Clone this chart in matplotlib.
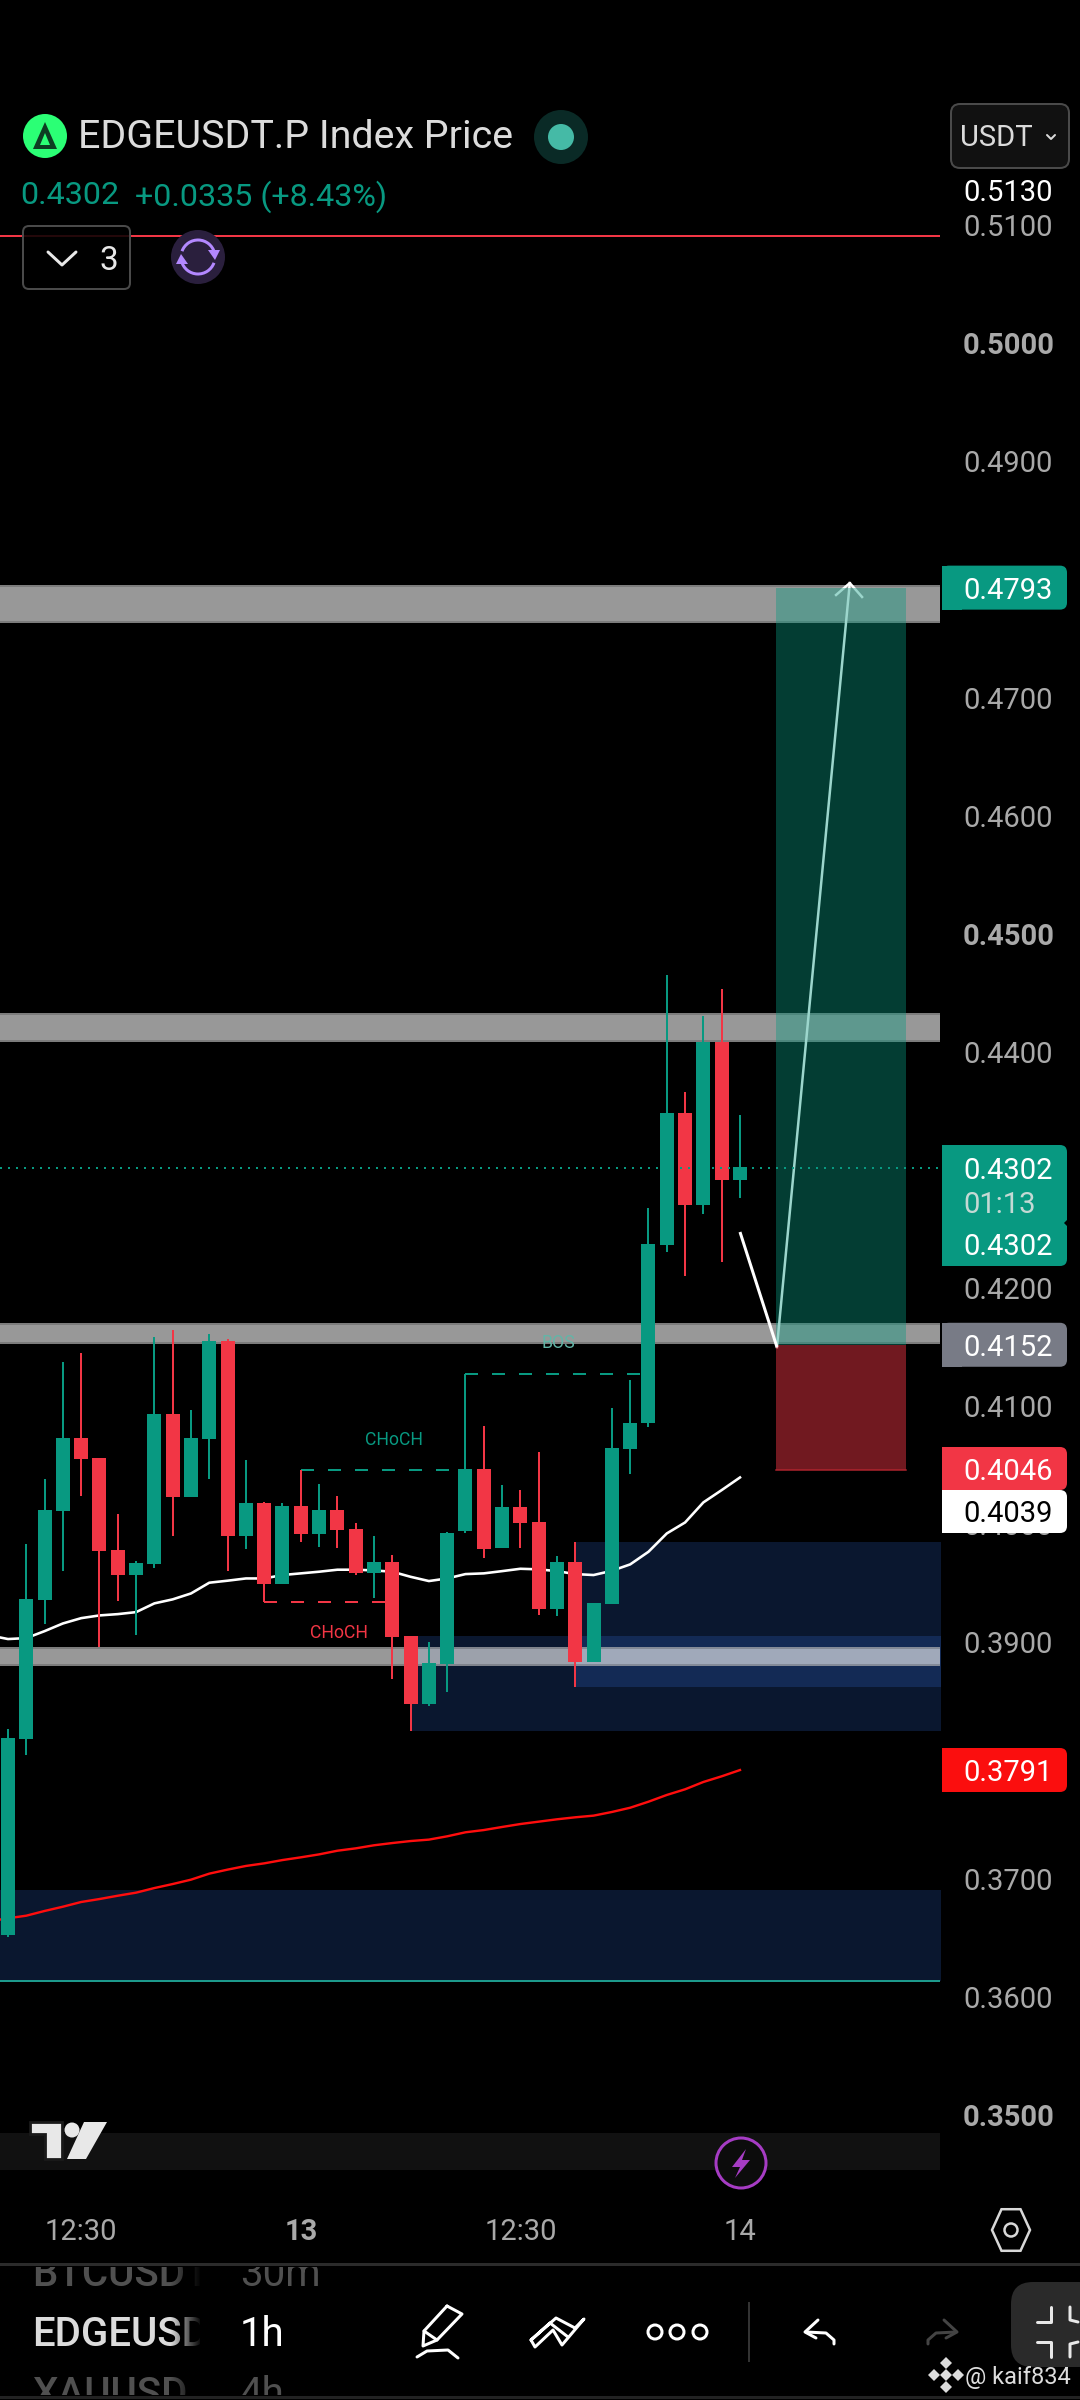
import numpy as np
import matplotlib
matplotlib.use('Agg')
import matplotlib.pyplot as plt
from matplotlib.patches import Rectangle, FancyBboxPatch, Circle, Polygon, Arc
from matplotlib.transforms import Bbox

plt.rcParams['font.family'] = ['Roboto', 'DejaVu Sans']

# 1h candles
candle_open = [0.36523, 0.38182, 0.39359, 0.40112, 0.40730, 0.40561, 0.39782, 0.39571, 0.39664, 0.40934,
               0.40231, 0.40722, 0.41552, 0.39901, 0.40180, 0.39494, 0.40155, 0.39918, 0.40121, 0.39960,
               0.39587, 0.39681, 0.39054, 0.38478, 0.38817, 0.39943, 0.40468, 0.39799, 0.40146, 0.40019,
               0.39283, 0.39681, 0.38834, 0.39325, 0.40637, 0.40857, 0.42365, 0.43482, 0.42703, 0.44083,
               0.42915]
candle_high = [0.38267, 0.39830, 0.40380, 0.41374, 0.41450, 0.40561, 0.40087, 0.39689, 0.41585, 0.41645,
               0.40967, 0.41611, 0.41569, 0.40544, 0.40188, 0.40180, 0.40459, 0.40341, 0.40239, 0.40011,
               0.39901, 0.39740, 0.39054, 0.39003, 0.39935, 0.41272, 0.40832, 0.40332, 0.40290, 0.40612,
               0.39731, 0.39850, 0.39333, 0.40984, 0.41221, 0.42678, 0.44650, 0.43660, 0.44303, 0.44532,
               0.43465]
candle_low = [0.36506, 0.38047, 0.39156, 0.39604, 0.40239, 0.38964, 0.39350, 0.39063, 0.39630, 0.39901,
              0.40231, 0.40383, 0.39604, 0.39791, 0.39342, 0.39494, 0.39850, 0.39808, 0.39799, 0.39571,
              0.39376, 0.38690, 0.38250, 0.38462, 0.38580, 0.39926, 0.39714, 0.39799, 0.39799, 0.39232,
              0.39223, 0.38622, 0.38834, 0.39325, 0.40426, 0.40823, 0.42305, 0.42102, 0.42627, 0.42221,
              0.42763]
candle_close = [0.38191, 0.39365, 0.40121, 0.40730, 0.40553, 0.39774, 0.39571, 0.39672, 0.40934, 0.40231,
                0.40730, 0.41552, 0.39901, 0.40180, 0.39494, 0.40155, 0.39918, 0.40121, 0.39951, 0.39587,
                0.39681, 0.39046, 0.38478, 0.38826, 0.39926, 0.40468, 0.39791, 0.40146, 0.40011, 0.39283,
                0.39681, 0.38834, 0.39333, 0.40646, 0.40857, 0.42373, 0.43482, 0.42703, 0.44083, 0.42915,
                0.43025]

# moving averages, first value sits one bar left of the screen
ma_white = [0.39060, 0.39029, 0.39037, 0.39096, 0.39161, 0.39206, 0.39229, 0.39240, 0.39257, 0.39331,
            0.39365, 0.39415, 0.39506, 0.39523, 0.39542, 0.39542, 0.39571, 0.39585, 0.39599, 0.39616,
            0.39616, 0.39610, 0.39599, 0.39556, 0.39520, 0.39542, 0.39579, 0.39585, 0.39604, 0.39624,
            0.39619, 0.39604, 0.39579, 0.39571, 0.39607, 0.39661, 0.39768, 0.39923, 0.40016, 0.40186,
            0.40290, 0.40397]
ma_red = [0.36640, 0.36665, 0.36687, 0.36727, 0.36763, 0.36803, 0.36828, 0.36856, 0.36882, 0.36921,
          0.36955, 0.36992, 0.37043, 0.37077, 0.37108, 0.37130, 0.37158, 0.37181, 0.37206, 0.37237,
          0.37257, 0.37283, 0.37302, 0.37319, 0.37331, 0.37359, 0.37393, 0.37412, 0.37438, 0.37463,
          0.37483, 0.37503, 0.37520, 0.37534, 0.37565, 0.37601, 0.37652, 0.37709, 0.37757, 0.37819,
          0.37867, 0.37920]

# horizontal gray levels (top, bottom)
band_tops = [0.47952, 0.44329, 0.41704, 0.38961]
band_bottoms = [0.47631, 0.44083, 0.41526, 0.38801]

# order blocks (start bar, top, bottom)
zone_starts = [31, 22, -1]
zone_tops = [0.39850, 0.39054, 0.36904]
zone_bottoms = [0.38623, 0.38250, 0.36134]

last_price = 0.4302
alert_line = 0.50907
target_price = 0.4793
entry_price = 0.4152
stop_price = 0.4046
white_ma_last = 0.4039
red_ma_last = 0.3791
high_label = 0.5130

# 0.38, 0.43 and 0.48 sit fully under the badges
price_ticks = [0.35, 0.36, 0.37, 0.39, 0.40, 0.41, 0.42, 0.44, 0.45, 0.46, 0.47, 0.49, 0.50, 0.51]
strong_ticks = [0.35, 0.45, 0.50]
time_ticks = [4, 16, 28, 40]
time_labels = ['12:30', '13', '12:30', '14']

GREEN = '#089981'
RED = '#f23645'
GRAY = '#a9a9a9'
PX = 0.72  # 1px in points at dpi 100

fig = plt.figure(figsize=(10.8, 24), dpi=100, facecolor='black')

# chart pane is x 0-940, y 0-2170 of the screen
ax = fig.add_axes([0, 230 / 2400, 940 / 1080, 2170 / 2400], facecolor='black')
ax.set_xlim(-0.437, 50.93)
ax.set_ylim(0.34534, 0.52905)
for s in ax.spines.values():
    s.set_visible(False)

x = np.arange(len(candle_open))
op = np.array(candle_open)
cl = np.array(candle_close)
colors = [GREEN if c >= o else RED for o, c in zip(op, cl)]

for start, top, bottom in zip(zone_starts, zone_tops, zone_bottoms):
    ax.fill_between([start, 51], bottom, top, color='#3a7efd', alpha=0.19, lw=0, zorder=1)
ax.axhline(zone_bottoms[2], color='#1d9a8c', lw=2 * PX, zorder=1.5)

for top, bottom in zip(band_tops, band_bottoms):
    ax.axhspan(bottom, top, facecolor=(1, 1, 1, 0.6), lw=0, zorder=2)
    # darker rim, just inside the band
    ax.hlines([top - 0.00008, bottom + 0.00008], -1, 51, colors=[(0, 0, 0, 0.18)], lw=2 * PX, zorder=2.1)

ax.axhline(alert_line, color=RED, lw=2 * PX, zorder=2)

# long position box, the trade path runs under it
trade_x = [40, 42.02, 46.0]
trade_y = [0.42475, 0.41501, 0.47969]
ax.plot(trade_x[:2], trade_y[:2], color='white', lw=3 * PX, zorder=5, solid_capstyle='butt')
ax.plot(trade_x[1:], trade_y[1:], color='white', lw=2.5 * PX, zorder=2.5)
ax.plot([45.25, 46.0, 46.67], [0.47868, 0.47969, 0.47851], color='white', lw=2.5 * PX, zorder=2.5)
ax.fill_between([41.97, 49.07], entry_price, target_price, color=GREEN, alpha=0.4, lw=0, zorder=3)
ax.fill_between([41.97, 49.07], stop_price, entry_price, color=RED, alpha=0.47, lw=0, zorder=3)
ax.plot([41.97, 49.07], [stop_price, stop_price], color='#b0242e', lw=1.5 * PX, zorder=3)

ax.plot(np.arange(-1, 41), ma_white, color='white', lw=2.6 * PX, zorder=3.5)
ax.plot(np.arange(-1, 41), ma_red, color='#ff0d0d', lw=2.4 * PX, zorder=3.5)

# structure lines
dash = (0, (6.5, 7))
ax.plot([16, 25], [0.40459, 0.40459], color=GREEN, lw=2 * PX, ls=dash, zorder=3.5)
ax.plot([14, 21], [0.39342, 0.39342], color=RED, lw=2 * PX, ls=dash, zorder=3.5)
ax.plot([25, 35], [0.41272, 0.41272], color=GREEN, lw=2 * PX, ls=dash, zorder=3.5)
ax.text(21.1, 0.40715, 'CHoCH', color=GREEN, fontsize=12.7, ha='center', va='center', zorder=5)
ax.text(18.1, 0.39080, 'CHoCH', color=RED, fontsize=12.7, ha='center', va='center', zorder=5)
ax.text(30.1, 0.41536, 'BOS', color='#62b5a7', fontsize=12.7, ha='center', va='center', zorder=5)

# candles
ax.vlines(x, candle_low, candle_high, colors=colors, lw=2 * PX, zorder=4)
ax.bar(x, np.abs(cl - op), bottom=np.minimum(op, cl), width=0.765, color=colors, lw=0, zorder=4)

ax.plot([-0.437, 50.9], [last_price, last_price], color=GREEN, lw=2 * PX, ls=(0, (1, 3)), zorder=5)

# axes labels
ax.yaxis.tick_right()
ax.set_yticks(price_ticks)
ax.set_yticklabels(['%.4f' % p for p in price_ticks])
ax.tick_params(axis='y', length=0, pad=23 * PX, labelsize=21, labelcolor=GRAY)
for lab, p in zip(ax.get_yticklabels(), price_ticks):
    if p in strong_ticks:
        lab.set_fontweight('bold')
ax.set_xticks(time_ticks)
ax.set_xticklabels(time_labels)
ax.tick_params(axis='x', length=0, pad=48 * PX, labelsize=21, labelcolor=GRAY)
ax.get_xticklabels()[1].set_fontweight('bold')

# everything else on screen is drawn in pixel coordinates
ui = fig.add_axes([0, 0, 1, 1])
ui.axis('off')
ui.patch.set_alpha(0)


def py(p):
    # price to screen pixel
    return 225 + (0.51 - p) * 11812


def badge(y0, y1, color):
    ui.add_patch(FancyBboxPatch((942, y0), 125, y1 - y0, boxstyle='round,pad=0,rounding_size=7', fc=color, lw=0))
    ui.add_patch(Rectangle((942, y0), 20, y1 - y0, fc=color, lw=0))


def badge_text(y, s, color='white', size=21):
    ui.text(963, y, s, color=color, fontsize=size, ha='left', va='center_baseline')


def line(xs, ys, color='white', lw=3.0, **kw):
    ui.plot(xs, ys, color=color, lw=lw * PX, solid_capstyle='round', solid_joinstyle='round', **kw)


# price badges
badge_text(py(high_label), '%.4f' % high_label, color='white')
badge(py(target_price) - 22, py(target_price) + 22, GREEN)
badge_text(py(target_price), '%.4f' % target_price)
badge(1145, 1266, GREEN)
badge_text(1168, '%.4f' % last_price)
badge_text(1202, '01:13', color='#c4d9d4')
badge_text(1244, '%.4f' % last_price)
ui.add_patch(Polygon([[1068, 1219], [1064, 1223], [1068, 1227]], fc='black', lw=0))
badge(py(entry_price) - 22, py(entry_price) + 22, '#787b86')
badge_text(py(entry_price), '%.4f' % entry_price)
badge(1490, 1533, 'white')
badge_text(1511, '%.4f' % white_ma_last, color='black')
badge(1447, 1490, RED)
badge_text(1469, '%.4f' % stop_price)
badge(1748, 1792, '#fb0e0e')
badge_text(1770, '%.4f' % red_ma_last)

# header
ui.add_patch(Circle((45, 136), 22, fc='#2bff75', lw=0))
ui.add_patch(Polygon([[45, 122], [57, 149], [33, 149]], fc='#0d3d22', lw=0))
ui.add_patch(Polygon([[45, 133], [50, 145], [40, 145]], fc='#2bff75', lw=0))
ui.text(78, 134, 'EDGEUSDT.P Index Price', color='#dcdcdc', fontsize=28.4, va='center_baseline')
ui.add_patch(Circle((561, 137), 27, fc='#0a2a26', lw=0))
ui.add_patch(Circle((561, 137), 13, fc='#45baa6', lw=0))
ui.text(20, 193, '%.4f' % last_price, color=GREEN, fontsize=23.2, va='center_baseline')
ui.text(135, 193, '+0.0335 (+8.43%)', color=GREEN, fontsize=23.2, va='center_baseline')

ui.add_patch(FancyBboxPatch((951, 104), 118, 64, boxstyle='round,pad=0,rounding_size=9', fc='#111111', ec='#4a4a4a', lw=2 * PX))
ui.text(960, 135, 'USDT', color='#dbdbdb', fontsize=21, va='center_baseline')
line([1047, 1051, 1055], [135, 139, 135], color='#dbdbdb', lw=2)

ui.add_patch(FancyBboxPatch((23, 226), 107, 63, boxstyle='round,pad=0,rounding_size=6', fc=(0, 0, 0, 0.85), ec='#4a4a4a', lw=2 * PX))
line([48, 62, 76], [252, 265, 252], color='#e8e8e8', lw=3)
ui.text(109, 258, '3', color='#e8e8e8', fontsize=24, ha='center', va='center_baseline')

ui.add_patch(Circle((198, 257), 27, fc='#2a1f3d', lw=0))
ui.add_patch(Arc((198, 257), 34, 34, theta1=200, theta2=345, color='#b388ff', lw=3 * PX))
ui.add_patch(Arc((198, 257), 34, 34, theta1=20, theta2=165, color='#b388ff', lw=3 * PX))
ui.add_patch(Polygon([[208, 250], [220, 250], [215, 260]], fc='#b388ff', lw=0))
ui.add_patch(Polygon([[176, 264], [188, 264], [181, 254]], fc='#b388ff', lw=0))

# strip at the bottom of the pane
ui.add_patch(Rectangle((0, 2133), 940, 37, fc='#111111', lw=0))
logo = '#e8e8e8'
ui.add_patch(Polygon([[30, 2122], [62, 2122], [62, 2159], [45, 2159], [45, 2134], [30, 2134]], fc=logo, ec='#1a1a1a', lw=2))
ui.add_patch(Circle((72, 2130), 7.5, fc=logo, lw=0))
ui.add_patch(Polygon([[84, 2122], [107, 2122], [86, 2159], [67, 2159]], fc=logo, lw=0))
ui.add_patch(Circle((741, 2163), 25, fc='#0c0c0c', ec='#a63cc4', lw=3 * PX))
ui.add_patch(Polygon([[746, 2149], [732, 2167], [740, 2167], [735, 2178], [750, 2160], [742, 2160]], fc='#a63cc4', lw=0))

# settings hexagon
ang = np.deg2rad(np.arange(0, 360, 60))
ui.add_patch(Polygon(np.c_[1011 + 19 * np.cos(ang), 2230 + 24 * np.sin(ang)], fill=False, ec='#d8d8d8', lw=2.5 * PX))
ui.add_patch(Circle((1011, 2230), 6.5, fill=False, ec='#d8d8d8', lw=2.5 * PX))

# toolbar
ui.add_patch(Rectangle((0, 2263), 1080, 3, fc='#2b2b2b', lw=0))
ui.add_patch(Rectangle((0, 2396), 1080, 3, fc='#222222', lw=0))
clip_sym = Bbox.from_extents(0, 2400 - 2395, 200, 2400 - 2267)
clip_res = Bbox.from_extents(200, 2400 - 2395, 400, 2400 - 2267)
rows = [('BTCUSDT', '30m', 2271, '#505050'), ('EDGEUSDT', '1h', 2331, '#dcdcdc'), ('XAUUSD', '4h', 2391, '#505050')]
for sym, tf, ry, col in rows:
    t1 = ui.text(32, ry, sym, color=col, fontsize=29, va='center_baseline', fontweight='medium')
    t2 = ui.text(240, ry, tf, color='white' if col == '#dcdcdc' else col, fontsize=29, va='center_baseline')
    t1.set_clip_box(clip_sym)
    t1.set_clip_on(True)
    t2.set_clip_box(clip_res)
    t2.set_clip_on(True)
# symbol column fades out to the right
fade = np.zeros((1, 32, 4))
fade[0, :, 3] = np.linspace(0, 1, 32)
ui.imshow(fade, extent=(170, 202, 2395, 2267), aspect='auto', zorder=4)

# pencil
line([447, 462, 437, 423, 424, 447], [2306, 2314, 2340, 2346, 2331, 2306], lw=3)
line([424, 437], [2331, 2340], lw=3)
line([417, 427, 448, 458], [2357, 2351, 2350, 2358], lw=3)
# trend lines
line([531, 556, 575, 584, 562, 553, 535, 531, 550], [2340, 2318, 2328, 2319, 2345, 2330, 2347, 2340, 2323], lw=3)
line([550, 568], [2323, 2337], lw=3)
# more
for cx in [655, 677, 700]:
    ui.add_patch(Circle((cx, 2332), 7, fill=False, ec='white', lw=3 * PX))
ui.add_patch(Rectangle((748, 2302), 2, 60, fc='#333333', lw=0))
# undo, redo
line([818, 805, 816], [2320, 2332, 2338], lw=3)
line([806, 826, 834, 834], [2332, 2333, 2340, 2344], lw=3)
line([944, 957, 946], [2320, 2332, 2338], color='#444444', lw=3)
line([956, 936, 928, 928], [2332, 2333, 2340, 2344], color='#444444', lw=3)
# fullscreen button
ui.add_patch(FancyBboxPatch((1011, 2282), 90, 85, boxstyle='round,pad=0,rounding_size=22', fc='#2a2a2a', lw=0))
line([1051, 1051, 1037], [2307, 2322, 2322], color='#e8e8e8', lw=3)
line([1037, 1051, 1051], [2342, 2342, 2357], color='#e8e8e8', lw=3)
line([1070, 1070, 1078], [2307, 2320, 2322], color='#e8e8e8', lw=3)
line([1078, 1070, 1070], [2342, 2344, 2357], color='#e8e8e8', lw=3)

# watermark
for dx, dy in [(0, -12), (-12, 0), (12, 0), (0, 12), (0, 0)]:
    ui.add_patch(Polygon([[946 + dx, 2375 + dy - 6], [946 + dx + 6, 2375 + dy], [946 + dx, 2375 + dy + 6], [946 + dx - 6, 2375 + dy]], fc='#dddddd', lw=0))
ui.text(965, 2375, '@ kaif834', color='#dddddd', fontsize=17, va='center_baseline')

ui.set_xlim(0, 1080)
ui.set_ylim(2400, 0)

fig.savefig('out.png', dpi=100, facecolor='black')
